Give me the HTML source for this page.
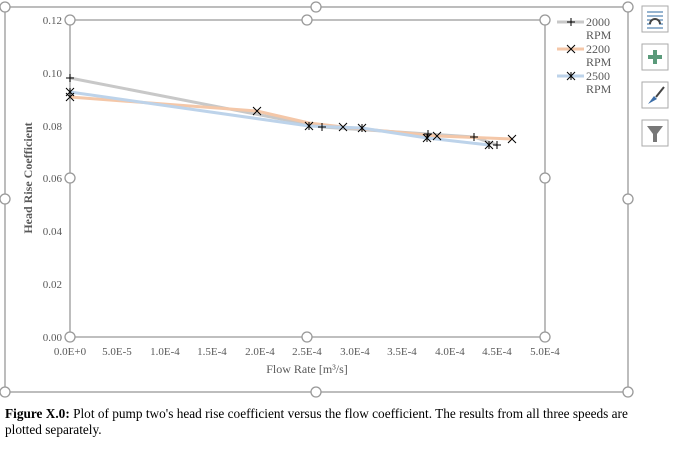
<!DOCTYPE html><html><head><style>body{margin:0;background:#fff;width:689px;height:456px;overflow:hidden;font-family:"Liberation Serif",serif}</style></head><body>
<svg width="689" height="456" xmlns="http://www.w3.org/2000/svg" font-family="Liberation Serif,serif">
<rect x="5" y="7" width="623" height="385" fill="none" stroke="#999" stroke-width="1.3"/>
<g stroke="#999" stroke-width="1.3"><line x1="70" y1="20" x2="545" y2="20"/><line x1="70" y1="20" x2="70" y2="337"/><line x1="545" y1="20" x2="545" y2="337"/><line x1="70" y1="337" x2="545" y2="337"/></g>
<g fill="#595959" font-size="11" text-anchor="end">
<text x="62" y="24">0.12</text><text x="62" y="77">0.10</text><text x="62" y="130">0.08</text><text x="62" y="182">0.06</text><text x="62" y="235">0.04</text><text x="62" y="288">0.02</text><text x="62" y="341">0.00</text></g>
<g fill="#595959" font-size="11" text-anchor="middle">
<text x="70" y="355">0.0E+0</text><text x="117" y="355">5.0E-5</text><text x="165" y="355">1.0E-4</text><text x="212" y="355">1.5E-4</text><text x="260" y="355">2.0E-4</text><text x="307" y="355">2.5E-4</text><text x="355" y="355">3.0E-4</text><text x="402" y="355">3.5E-4</text><text x="450" y="355">4.0E-4</text><text x="497" y="355">4.5E-4</text><text x="545" y="355">5.0E-4</text>
<text x="307" y="373" font-size="12">Flow Rate [m³/s]</text></g>
<text transform="translate(32,178) rotate(-90)" fill="#595959" font-size="12" font-weight="bold" text-anchor="middle">Head Rise Coefficient</text>
<polyline points="70,78 322,127 428,134 474,137 497,145" fill="none" stroke="#c8c8c8" stroke-width="3"/>
<polyline points="70,97 257,111 309,123 343,127 437,136 512,139" fill="none" stroke="#f4c7a8" stroke-width="3"/>
<polyline points="70,92 309,126 362,128 427,138 489,145" fill="none" stroke="#bdd3ea" stroke-width="3"/>
<g stroke="#000" stroke-width="1" fill="none">
<path d="M66,78h8M70,74v8M318,127h8M322,123v8M424,134h8M428,130v8M470,137h8M474,133v8M493,145h8M497,141v8"/>
<path d="M66,93l8,8M74,93l-8,8M253,107l8,8M261,107l-8,8M339,123l8,8M347,123l-8,8M433,132l8,8M441,132l-8,8M508,135l8,8M516,135l-8,8"/>
<path d="M66,88l8,8M74,88l-8,8M70,88v8M305,122l8,8M313,122l-8,8M309,122v8M358,124l8,8M366,124l-8,8M362,124v8M423,134l8,8M431,134l-8,8M427,134v8M485,141l8,8M493,141l-8,8M489,141v8"/>
</g>
<g font-size="12" fill="#595959">
<line x1="557" y1="22" x2="584" y2="22" stroke="#c8c8c8" stroke-width="3"/><path d="M567,22h8M571,18v8" stroke="#000"/>
<text x="586" y="26">2000</text><text x="586" y="39">RPM</text>
<line x1="557" y1="49" x2="584" y2="49" stroke="#f4c7a8" stroke-width="3"/><path d="M567,45l8,8M575,45l-8,8" stroke="#000"/>
<text x="586" y="53">2200</text><text x="586" y="66">RPM</text>
<line x1="557" y1="76" x2="584" y2="76" stroke="#bdd3ea" stroke-width="3"/><path d="M567,72l8,8M575,72l-8,8M571,72v8" stroke="#000"/>
<text x="586" y="80">2500</text><text x="586" y="93">RPM</text></g>
<g fill="#fff" stroke="#999" stroke-width="1.3">
<circle cx="5" cy="7" r="5"/><circle cx="316" cy="7" r="5"/><circle cx="628" cy="7" r="5"/><circle cx="5" cy="199" r="5"/><circle cx="628" cy="199" r="5"/><circle cx="5" cy="392" r="5"/><circle cx="316" cy="392" r="5"/><circle cx="628" cy="392" r="5"/>
<circle cx="70" cy="20" r="5"/><circle cx="307" cy="20" r="5"/><circle cx="545" cy="20" r="5"/><circle cx="70" cy="178" r="5"/><circle cx="545" cy="178" r="5"/><circle cx="70" cy="337" r="5"/><circle cx="307" cy="337" r="5"/><circle cx="545" cy="337" r="5"/></g>
<g fill="#fff" stroke="#aaa"><rect x="642" y="6" width="26" height="26"/><rect x="642" y="44" width="26" height="26"/><rect x="642" y="82" width="26" height="26"/><rect x="642" y="120" width="26" height="26"/></g>
<g stroke="#2e6aa0"><path d="M647,12h16M647,16h16M647,20h4M659,20h4M647,24h4M659,24h4M647,28h16"/></g>
<path d="M650,24a5,5 0 0 1 10,0" fill="none" stroke="#444" stroke-width="2"/>
<path d="M655,50v14M648,57h14" stroke="#5a9a7a" stroke-width="4"/>
<path d="M648,104l6-8 3,3z" fill="#3c6ea8"/><path d="M656,97l8-10" stroke="#444" stroke-width="2"/>
<path d="M647,126h16l-6,8v8h-4v-8z" fill="#777"/>
<text x="5" y="418" font-size="13.3" fill="#000"><tspan font-weight="bold">Figure X.0:</tspan> Plot of pump two's head rise coefficient versus the flow coefficient. The results from all three speeds are</text>
<text x="5" y="434" font-size="13.3" fill="#000">plotted separately.</text>
</svg></body></html>
